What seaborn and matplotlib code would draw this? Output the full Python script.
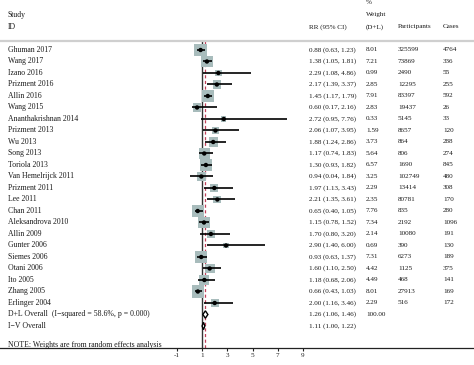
import numpy as np
import pandas as pd
import matplotlib
matplotlib.use("Agg")
import matplotlib.pyplot as plt
import seaborn as sns

# ---- data ----
studies = ["Ghuman 2017", "Wang 2017", "Izano 2016", "Prizment 2016", "Allin 2016",
           "Wang 2015", "Ananthakrishnan 2014", "Prizment 2013", "Wu 2013", "Song 2013",
           "Toriola 2013", "Van Hemelrijck 2011", "Prizment 2011", "Lee 2011", "Chan 2011",
           "Aleksandrova 2010", "Allin 2009", "Gunter 2006", "Siemes 2006", "Otani 2006",
           "Ito 2005", "Zhang 2005", "Erlinger 2004"]
rr = [0.88, 1.38, 2.29, 2.17, 1.45, 0.60, 2.72, 2.06, 1.88, 1.17, 1.30, 0.94, 1.97, 2.21,
      0.65, 1.15, 1.70, 2.90, 0.93, 1.60, 1.18, 0.66, 2.00]
ci_low = [0.63, 1.05, 1.08, 1.39, 1.17, 0.17, 0.95, 1.07, 1.24, 0.74, 0.93, 0.04, 1.13, 1.35,
          0.40, 0.78, 0.80, 1.40, 0.63, 1.10, 0.68, 0.43, 1.16]
ci_high = [1.23, 1.81, 4.86, 3.37, 1.79, 2.16, 7.76, 3.95, 2.86, 1.83, 1.82, 1.84, 3.43, 3.61,
           1.05, 1.52, 3.20, 6.00, 1.37, 2.50, 2.06, 1.03, 3.46]
weight = [8.01, 7.21, 0.99, 2.85, 7.91, 2.83, 0.33, 1.59, 3.73, 5.64, 6.57, 3.25, 2.29, 2.35,
          7.76, 7.34, 2.14, 0.69, 7.31, 4.42, 4.49, 8.01, 2.29]
participants = [325599, 73869, 2490, 12295, 83397, 19437, 5145, 8657, 864, 806, 1690, 102749,
                13414, 80781, 835, 2192, 10080, 390, 6273, 1125, 468, 27913, 516]
cases = [4764, 336, 55, 255, 592, 26, 33, 120, 288, 274, 845, 480, 308, 170, 280, 1096, 191,
         130, 189, 375, 141, 169, 172]

overall_labels = ["D+L Overall  (I\u2212squared = 58.6%, p = 0.000)", "I\u2212V Overall"]
overall_rr = [1.26, 1.11]
overall_low = [1.06, 1.00]
overall_high = [1.46, 1.22]
overall_weight = ["100.00", ""]

x_ticks = [-1, 1, 3, 5, 7, 9]

df = pd.DataFrame({"study": studies, "rr": rr, "lo": ci_low, "hi": ci_high,
                   "weight": weight, "row": np.arange(len(studies))})

sns.set_theme(style="white")
plt.rcParams["font.family"] = ["Liberation Serif", "DejaVu Serif"]
fs_name = 5.6
fs_num = 5.1
txt_col = "#1a1a1a"

fig = plt.figure(figsize=(4.74, 3.65), dpi=100)
ax = fig.add_axes([0, 17 / 365, 1, 348 / 365])

row_px = 11.5
n = len(studies)
top_row = (41 - 50) / row_px
bottom_row = (348 - 50) / row_px

# header separator
ax.axhline(top_row, color="#cfcfcf", lw=1.6)

# null line and overall estimate line
ax.vlines(1, top_row, bottom_row, color="#333333", lw=1.0, zorder=1)
ax.vlines(overall_rr[0], top_row, bottom_row, color="#c0405a", lw=0.9,
          linestyles=(0, (2.5, 2)), zorder=1)

# weight boxes
sns.scatterplot(data=df, x="rr", y="row", size="weight", sizes=(15, 80), marker="s",
                color="#a8bcbc", edgecolor="none", legend=False, ax=ax, zorder=2)
# confidence intervals
ax.hlines(df["row"], df["lo"], df["hi"], color="black", lw=1.2, zorder=3)
# point estimates
sns.scatterplot(data=df, x="rr", y="row", color="black", s=10, edgecolor="none",
                legend=False, ax=ax, zorder=4)

# overall diamonds
for k in range(2):
    yk = n + k
    dx = [overall_low[k], overall_rr[k], overall_high[k], overall_rr[k], overall_low[k]]
    dy = [yk, yk - 0.32, yk, yk + 0.32, yk]
    ax.fill(dx, dy, facecolor="white", edgecolor="black", lw=1.0, zorder=5)

ax.set_xlim(-189.5 / 12.6, (474 - 189.5) / 12.6)
ax.set_ylim(bottom_row, -50 / row_px)
for s in ["top", "left", "right"]:
    ax.spines[s].set_visible(False)
ax.spines["bottom"].set_color("#222222")
ax.spines["bottom"].set_linewidth(0.9)
ax.set_yticks([])
ax.set_xticks(x_ticks)
ax.set_xticklabels([str(t) for t in x_ticks])
ax.tick_params(axis="x", direction="out", length=2.5, width=0.8, pad=1,
               labelsize=fs_num, colors="#222222", bottom=True)
ax.set_xlabel("")
ax.set_ylabel("")

# text columns
tr = ax.get_yaxis_transform()
col_x = {"study": 8 / 474, "rr": 309 / 474, "w": 366 / 474, "p": 398 / 474, "c": 443 / 474}

def put(x, y, s, fs=fs_num):
    ax.text(x, y, s, transform=tr, fontsize=fs, color=txt_col, va="center", ha="left",
            clip_on=False)

hdr = lambda p: (p - 50) / row_px
put(col_x["study"], hdr(15), "Study", fs_name)
put(col_x["study"], hdr(27), "ID", fs_name)
put(col_x["rr"], hdr(27), "RR (95% CI)")
put(col_x["w"], hdr(3), "%")
put(col_x["w"], hdr(15), "Weight")
put(col_x["w"], hdr(27), "(D+L)")
put(col_x["p"], hdr(27), "Participants")
put(col_x["c"], hdr(27), "Cases")

for i in range(n):
    put(col_x["study"], i, studies[i], fs_name)
    put(col_x["rr"], i, f"{rr[i]:.2f} ({ci_low[i]:.2f}, {ci_high[i]:.2f})")
    put(col_x["w"], i, f"{weight[i]:.2f}")
    put(col_x["p"], i, str(participants[i]))
    put(col_x["c"], i, str(cases[i]))

for k in range(2):
    put(col_x["study"], n + k, overall_labels[k], fs_name)
    put(col_x["rr"], n + k, f"{overall_rr[k]:.2f} ({overall_low[k]:.2f}, {overall_high[k]:.2f})")
    put(col_x["w"], n + k, overall_weight[k])

put(col_x["study"], hdr(345), "NOTE: Weights are from random effects analysis", fs_name)

fig.savefig("out.png", dpi=100)
